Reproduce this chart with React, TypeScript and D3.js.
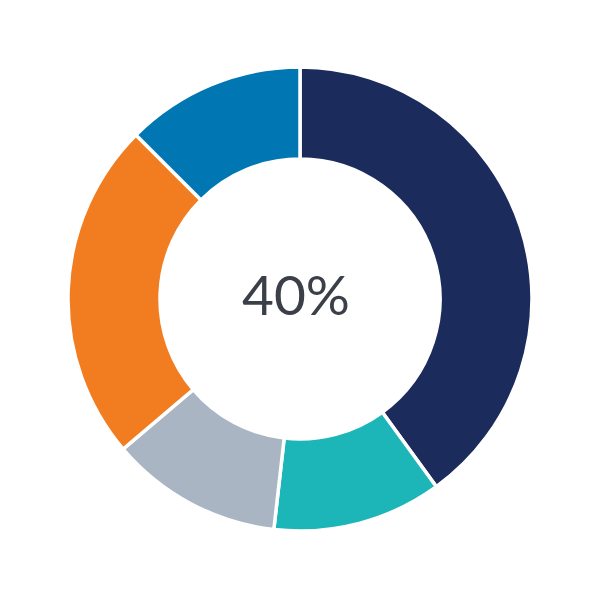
import * as d3 from "d3";
import React from "react";

const labels = ["A", "B", "C", "D", "E"];
const values = [40, 11.8, 12, 23.7, 12.5];
const colors = ["#1b2b5b", "#1cb5b8", "#a9b5c3", "#f27d21", "#0077b3"];
const centerLabel = "40%";

const App: React.FC = () => {
  const width = 600;
  const height = 600;
  const cx = 300;
  const cy = 299;

  const pie = d3
    .pie<number>()
    .sort(null)
    .value((d) => d);
  const arcs = pie(values);
  const arc = d3
    .arc<d3.PieArcDatum<number>>()
    .innerRadius(140)
    .outerRadius(232);

  return (
    <svg
      width={width}
      height={height}
      style={{ position: "absolute", left: 0, top: 0, background: "#fff" }}
    >
      <g transform={`translate(${cx},${cy})`}>
        {arcs.map((a, i) => (
          <path
            key={labels[i]}
            d={arc(a) || ""}
            fill={colors[i]}
            stroke="#fff"
            strokeWidth={3.5}
          />
        ))}
        <text
          x={-4}
          y={16}
          textAnchor="middle"
          fontFamily="Lato, sans-serif"
          fontSize={55}
          fill="#3b3f48"
        >
          {centerLabel}
        </text>
      </g>
    </svg>
  );
};

export default App;
